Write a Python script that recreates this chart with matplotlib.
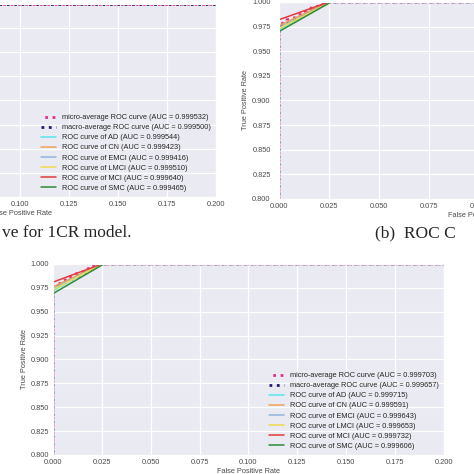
import numpy as np
import matplotlib
matplotlib.use('Agg')
import matplotlib.pyplot as plt
import seaborn as sns

# ── Data ───────────────────────────────────────────────
CLASSES = ['AD', 'CN', 'EMCI', 'LMCI', 'MCI', 'SMC']
CLASS_COLORS = ['#55e6ec', '#eea15a', '#93b4dc', '#f0da50', '#e33a3e', '#2f8a3a']

# panel (a) - 1CR model
AUC_A = {'micro': 0.999532, 'macro': 0.999500,
         'AD': 0.999544, 'CN': 0.999423, 'EMCI': 0.999416,
         'LMCI': 0.999510, 'MCI': 0.999640, 'SMC': 0.999465}
TPR0_A = [0.972, 0.975, 0.973, 0.974, 0.980, 0.969]     # tpr at fpr = 0
FPR1_A = [0.025, 0.025, 0.025, 0.026, 0.025, 0.026]     # fpr where tpr hits 1

# panel (b)
TPR0_B = [0.972, 0.976, 0.974, 0.973, 0.982, 0.970]
FPR1_B = [0.025, 0.025, 0.026, 0.026, 0.025, 0.026]

# panel (c)
AUC_C = {'micro': 0.999703, 'macro': 0.999657,
         'AD': 0.999715, 'CN': 0.999591, 'EMCI': 0.999643,
         'LMCI': 0.999653, 'MCI': 0.999732, 'SMC': 0.999606}
TPR0_C = [0.972, 0.976, 0.974, 0.973, 0.981, 0.969]
FPR1_C = [0.024, 0.025, 0.025, 0.025, 0.025, 0.026]

# micro / macro averages (small steps near the corner)
MICRO_FPR = [0.0, 0.0, 0.004, 0.004, 0.008, 0.008, 0.012, 0.012, 0.016, 0.016, 0.020, 0.020, 0.025, 1.0]
MICRO_TPR = [0.0, 0.977, 0.980, 0.982, 0.984, 0.986, 0.988, 0.990, 0.992, 0.994, 0.996, 0.998, 1.0, 1.0]
MACRO_FPR = [0.0, 0.0, 0.025, 1.0]
MACRO_TPR = [0.0, 0.974, 1.0, 1.0]

X_TICKS = np.arange(0, 0.2001, 0.025)
Y_TICKS = np.arange(0.8, 1.0001, 0.025)
# ───────────────────────────────────────────────────────

sns.set_style('darkgrid')
plt.rcParams['font.family'] = ['Liberation Sans', 'DejaVu Sans']

TICK_COLOR = '#4a4a4a'
FS = 5.3


def draw_panel(ax, tpr0, fpr1, auc=None, ypad=3):
    # micro dots shifted half a period so they alternate with the macro dots
    ax.plot(MICRO_FPR, MICRO_TPR, color='#e0308a', linestyle=(1.3, (1, 1.65)), linewidth=2,
            label='micro-average ROC curve (AUC = {0:0.6f})'.format(auc['micro']) if auc else None)
    ax.plot(MACRO_FPR, MACRO_TPR, color='#1c1c6a', linestyle=':', linewidth=2,
            label='macro-average ROC curve (AUC = {0:0.6f})'.format(auc['macro']) if auc else None)
    for name, col, t0, f1 in zip(CLASSES, CLASS_COLORS, tpr0, fpr1):
        lab = 'ROC curve of {0} (AUC = {1:0.6f})'.format(name, auc[name]) if auc else None
        ax.plot([0.0, 0.0, f1], [0.0, t0, 1.0], color=col, linewidth=1.1, label=lab)

    ax.set_xlim(0.0, 0.2)
    ax.set_ylim(0.8, 1.0)
    ax.set_xticks(X_TICKS)
    ax.set_yticks(Y_TICKS)
    ax.set_xticklabels(['{:.3f}'.format(v) for v in X_TICKS])
    ax.set_yticklabels(['{:.3f}'.format(v) for v in Y_TICKS])
    ax.tick_params(axis='both', labelsize=FS, colors=TICK_COLOR, length=0)
    ax.tick_params(axis='x', pad=3)
    ax.tick_params(axis='y', pad=ypad)
    ax.set_xlabel('False Positive Rate', fontsize=FS, color=TICK_COLOR, labelpad=1)
    ax.set_ylabel('True Positive Rate', fontsize=FS, color=TICK_COLOR, labelpad=2)
    ax.grid(True, color='white', linewidth=0.9)
    if auc:
        ax.legend(loc='lower right', fontsize=FS, frameon=False,
                  labelspacing=0.40, handlelength=2.0, handletextpad=0.8,
                  borderaxespad=0.3)


fig = plt.figure(figsize=(4.74, 4.74), dpi=100)

ax_a = fig.add_axes([-0.3713, 0.5844, 0.8270, 0.4072])
draw_panel(ax_a, TPR0_A, FPR1_A, AUC_A)

ax_b = fig.add_axes([0.5886, 0.5802, 0.8439, 0.4156])
draw_panel(ax_b, TPR0_B, FPR1_B, None, ypad=6)

ax_c = fig.add_axes([0.1118, 0.0401, 0.8249, 0.4030])
draw_panel(ax_c, TPR0_C, FPR1_C, AUC_C)

fig.text(2 / 474, 1 - 237 / 474, 've for 1CR model.', family='Liberation Serif',
         fontsize=12.5, va='baseline', ha='left')
fig.text(375 / 474, 1 - 237 / 474, '(b)  ROC C', family='Liberation Serif',
         fontsize=12.5, va='baseline', ha='left')

fig.savefig('out.png', dpi=100)
